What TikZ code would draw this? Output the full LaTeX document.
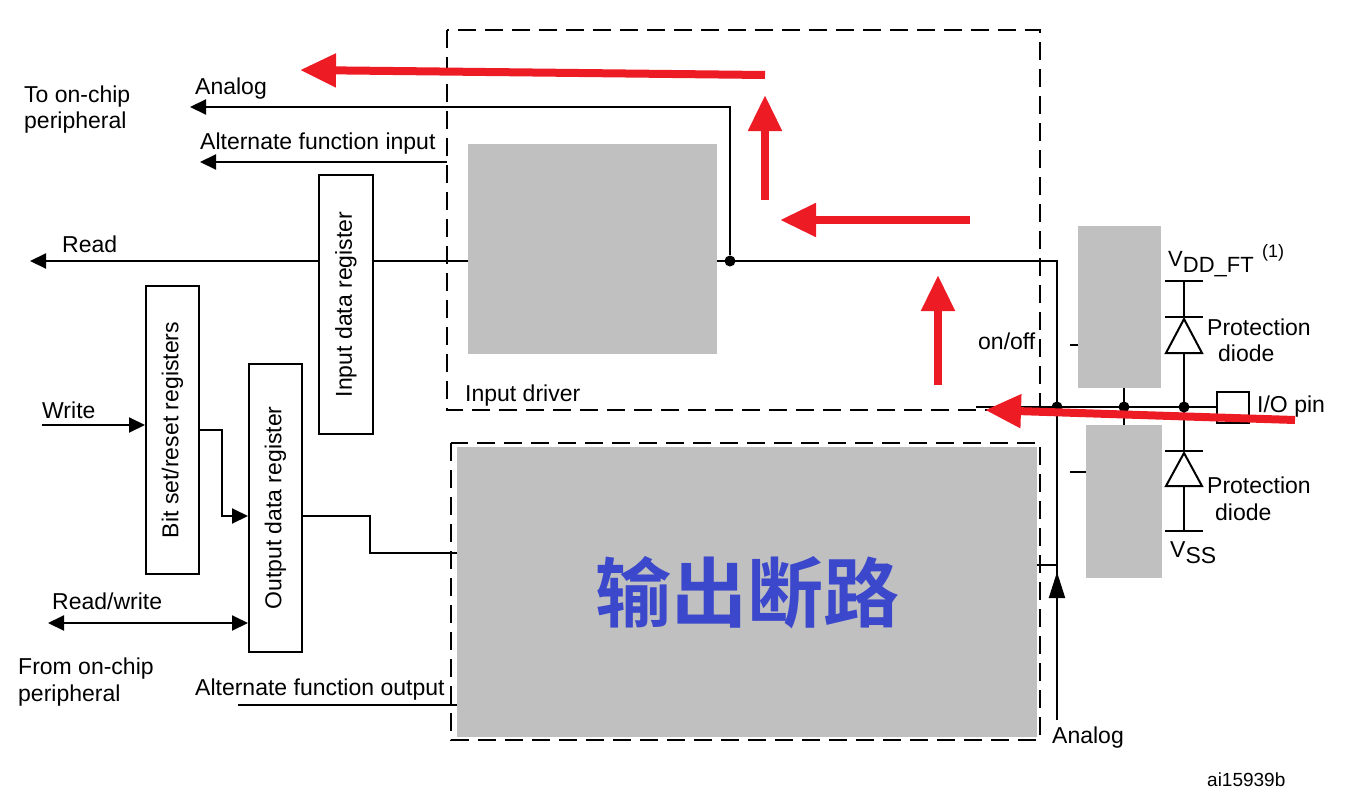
\documentclass[tikz,border=0pt]{standalone}
\usepackage{fontspec}
\setmainfont{Liberation Sans}
\newfontfamily\cjk{Noto Sans CJK SC}[BoldFont={* Bold}]
\usetikzlibrary{arrows.meta}
\definecolor{gr}{HTML}{C0C0C0}
\definecolor{rd}{HTML}{ED1C24}
\definecolor{bl}{HTML}{3C48CC}
\newcommand{\fs}{\fontsize{23}{27}\selectfont}
\begin{document}
\begin{tikzpicture}[x=1pt,y=-1pt,
  ln/.style={line width=2pt},
  dsh/.style={line width=1.6pt,dash pattern=on 18pt off 9pt},
  gbox/.style={fill=gr,draw=none},
  reg/.style={draw,line width=2pt,fill=white},
  arr/.style={ln,-{Triangle[length=16pt,width=15pt]}},
  lbl/.style={font=\fs,anchor=west,inner sep=0pt},
  red/.style={rd,line width=8pt,-{Triangle[length=36pt,width=32pt]}},
  dot/.style={circle,fill,inner sep=0pt,minimum size=11pt}]
\useasboundingbox (0,0) rectangle (1345,800);
% dashed boxes
\draw[dsh] (447,30) rectangle (1040,410);
\draw[dsh] (451,443) rectangle (1040,740);
% lines
\coordinate (rd) at (30,261);
\coordinate (dA) at (730,261);
\coordinate (c1) at (1057,261);
\coordinate (c2) at (1057,720);
\draw[arr] (468,261) -- (rd);
\draw[ln] (717,261) -- (c1) -- (c2);
\node[dot] (d0) at (dA) {};
\draw[arr] (d0) -- (730,107) -- (190,107);
\draw[arr] (447,162) -- (200,162);
\draw[ln,-{Triangle[length=26pt,width=16pt]}] (c2) -- (1057,572);
\draw[ln] (1037,565) -- (1057,565);
\draw[ln] (976,407) -- (1217,407);
\draw[ln] (1124,388) -- (1124,425);
\draw[ln] (1070,345) -- (1078,345);
\draw[ln] (1070,472) -- (1086,472);
\node[dot] (d1) at (1057,407) {};
\node[dot] (d2) at (1124,407) {};
\node[dot] (d3) at (1184,407) {};
\node[draw,line width=2pt,minimum width=32pt,minimum height=31pt,inner sep=0pt] (pin) at (1233,407) {};
% diodes
\draw[ln] (1165,281) -- (1203,281) (1184,281) -- (1184,317);
\draw[ln] (1165,317) -- (1203,317);
\draw[ln,fill=white] (1184,319) -- (1166,353) -- (1202,353) -- cycle;
\draw[ln] (1184,353) -- (1184,451);
\draw[ln] (1165,451) -- (1203,451);
\draw[ln,fill=white] (1184,453) -- (1166,486) -- (1202,486) -- cycle;
\draw[ln] (1184,486) -- (1184,531) (1165,531) -- (1203,531);
% gray boxes
\node[gbox,minimum width=249pt,minimum height=210pt,anchor=north west] (drv) at (468,144) {};
\fill[gr] (1078,226) rectangle (1161,388);
\fill[gr] (1086,425) rectangle (1162,578);
\node[gbox,minimum width=580pt,minimum height=290pt,anchor=north west,text=bl,font=\cjk\bfseries\fontsize{76}{84}\selectfont] (out) at (457,447) {输出断路};
% registers
\node[reg,minimum width=54pt,minimum height=259pt,anchor=north west] (idr) at (318,174) {};
\node[rotate=90,font=\fs] at (idr.center) {Input data register};
\node[reg,minimum width=53pt,minimum height=288pt,anchor=north west] (bsr) at (145,285) {};
\node[rotate=90,font=\fs] at (bsr.center) {Bit set/reset registers};
\node[reg,minimum width=53pt,minimum height=288pt,anchor=north west] (odr) at (248,363) {};
\node[rotate=90,font=\fs] at (odr.center) {Output data register};
\coordinate (w0) at (42,425);
\draw[arr] (w0) -- (145,425);
\draw[arr] (198,430) -- (222,430) -- (222,516) -- (248,516);
\draw[ln] (301,516) -- (370,516) -- (370,553) -- (457,553);
\draw[ln,{Triangle[length=16pt,width=15pt]}-{Triangle[length=16pt,width=15pt]}] (48,623) -- (248,623);
\draw[ln] (238,705) -- (457,705);
% labels
\node[lbl] at (24,97) {To on-chip};
\node[lbl] at (24,123) {peripheral};
\node[lbl] at (195,89) {Analog};
\node[lbl] at (200,144) {Alternate function input};
\node[lbl] at (62,244) {Read};
\node[lbl] at (42,410) {Write};
\node[lbl] at (52,601) {Read/write};
\node[lbl] at (18,669) {From on-chip};
\node[lbl] at (18,696) {peripheral};
\node[lbl] at (195,690) {Alternate function output};
\node[lbl] at (465,396) {Input driver};
\node[lbl] at (978,341) {on/off};
\node[lbl] at (1052,738) {Analog};
\node[lbl,font=\fontsize{19}{22}\selectfont] at (1207,780) {ai15939b};
\node[lbl,font=\fontsize{22}{26}\selectfont] at (1168,264) {V\raisebox{-6pt}{DD\_FT}};
\node[lbl,font=\fontsize{18}{22}\selectfont] at (1262,253) {(1)};
\node[lbl] at (1207,327) {Protection};
\node[lbl] at (1218,353) {diode};
\node[lbl] at (1207,485) {Protection};
\node[lbl] at (1215,512) {diode};
\node[lbl] at (1257,407) {I/O pin};
\node[lbl] at (1170,553) {V\raisebox{-6pt}{SS}};
% red arrows
\draw[red] (765,75) -- (300,70);
\draw[red] (765,200) -- (765,95);
\draw[red] (970,220) -- (780,220);
\draw[red] (938,385) -- (938,275);
\draw[red] (1295,420) -- (985,410);
\end{tikzpicture}
\end{document}
